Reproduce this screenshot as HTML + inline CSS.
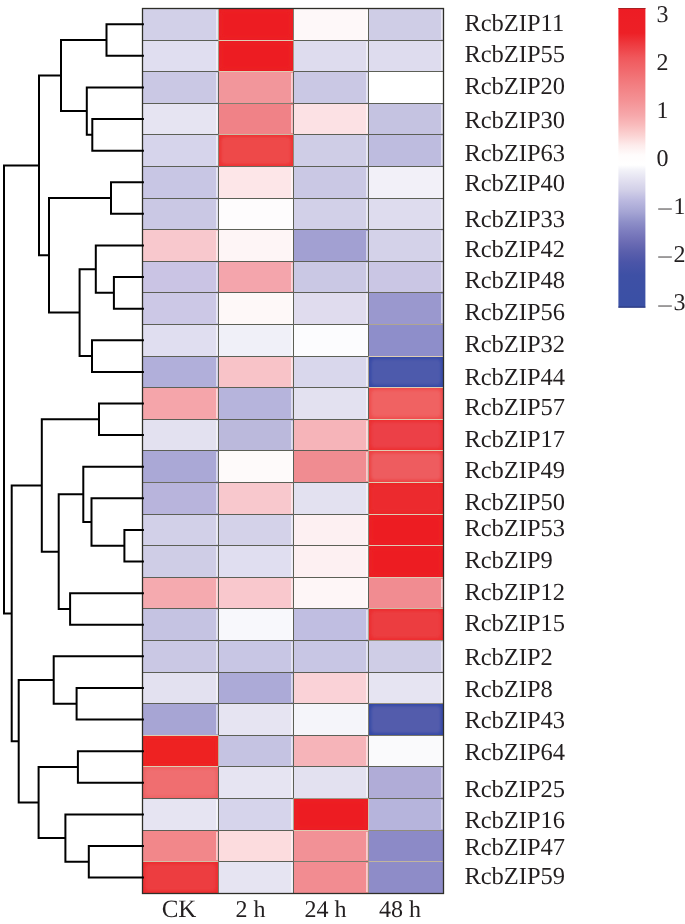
<!DOCTYPE html>
<html><head><meta charset="utf-8"><style>
html,body{margin:0;padding:0;background:#fff;}
body{width:685px;height:924px;overflow:hidden;}
svg{display:block;}
text{font-family:"Liberation Serif","Times New Roman",serif;font-size:24px;fill:#231f20;text-rendering:geometricPrecision;}
</style></head><body>
<svg width="685" height="924" viewBox="0 0 685 924">
<defs>
<filter id="bl" x="-10%" y="-20%" width="120%" height="140%"><feGaussianBlur stdDeviation="1.4"/></filter>
<linearGradient id="cb" x1="0" y1="0" x2="0" y2="1"><stop offset="0.0000" stop-color="rgb(237,28,36)"/><stop offset="0.0834" stop-color="rgb(237,32,38)"/><stop offset="0.1235" stop-color="rgb(238,60,65)"/><stop offset="0.1669" stop-color="rgb(240,88,92)"/><stop offset="0.2537" stop-color="rgb(242,125,128)"/><stop offset="0.3071" stop-color="rgb(244,145,148)"/><stop offset="0.3571" stop-color="rgb(246,167,170)"/><stop offset="0.3905" stop-color="rgb(249,187,188)"/><stop offset="0.4239" stop-color="rgb(251,210,210)"/><stop offset="0.4573" stop-color="rgb(253,235,235)"/><stop offset="0.4907" stop-color="rgb(255,252,252)"/><stop offset="0.5240" stop-color="rgb(255,255,255)"/><stop offset="0.5407" stop-color="rgb(242,242,248)"/><stop offset="0.5741" stop-color="rgb(226,224,240)"/><stop offset="0.6075" stop-color="rgb(210,208,232)"/><stop offset="0.6409" stop-color="rgb(188,186,224)"/><stop offset="0.6809" stop-color="rgb(165,165,212)"/><stop offset="0.7143" stop-color="rgb(142,143,200)"/><stop offset="0.7477" stop-color="rgb(124,124,190)"/><stop offset="0.7810" stop-color="rgb(108,108,180)"/><stop offset="0.8144" stop-color="rgb(90,95,172)"/><stop offset="0.8478" stop-color="rgb(75,85,168)"/><stop offset="0.8912" stop-color="rgb(62,80,165)"/><stop offset="1.0000" stop-color="rgb(58,80,165)"/></linearGradient>
</defs>
<g><rect x="142.50" y="8.50" width="76.00" height="32.00" fill="rgb(210,208,232)"/><rect x="216.00" y="10.00" width="1.8" height="29.00" fill="#fff" opacity="0.55"/><rect x="218.50" y="8.50" width="75.00" height="32.00" fill="rgb(236,32,35)"/><rect x="221.10" y="10.90" width="69.80" height="27.20" rx="4" fill="rgb(237,28,36)" filter="url(#bl)"/><rect x="293.50" y="8.50" width="75.00" height="32.00" fill="rgb(254,248,249)"/><rect x="366.00" y="10.00" width="1.8" height="29.00" fill="#fff" opacity="0.55"/><rect x="368.50" y="8.50" width="75.00" height="32.00" fill="rgb(207,205,230)"/><rect x="441.00" y="10.00" width="1.8" height="29.00" fill="#fff" opacity="0.55"/><rect x="142.50" y="40.50" width="76.00" height="31.00" fill="rgb(224,222,240)"/><rect x="216.00" y="42.00" width="1.8" height="28.00" fill="#fff" opacity="0.55"/><rect x="218.50" y="40.50" width="75.00" height="31.00" fill="rgb(236,32,35)"/><rect x="221.10" y="42.90" width="69.80" height="26.20" rx="4" fill="rgb(237,30,36)" filter="url(#bl)"/><rect x="293.50" y="40.50" width="75.00" height="31.00" fill="rgb(222,220,238)"/><rect x="366.00" y="42.00" width="1.8" height="28.00" fill="#fff" opacity="0.55"/><rect x="368.50" y="40.50" width="75.00" height="31.00" fill="rgb(222,220,238)"/><rect x="441.00" y="42.00" width="1.8" height="28.00" fill="#fff" opacity="0.55"/><rect x="142.50" y="71.50" width="76.00" height="32.00" fill="rgb(202,200,228)"/><rect x="216.00" y="73.00" width="1.8" height="29.00" fill="#fff" opacity="0.55"/><rect x="218.50" y="71.50" width="75.00" height="32.00" fill="rgb(242,150,155)"/><rect x="291.00" y="73.00" width="1.8" height="29.00" fill="#fff" opacity="0.55"/><rect x="293.50" y="71.50" width="75.00" height="32.00" fill="rgb(202,200,228)"/><rect x="366.00" y="73.00" width="1.8" height="29.00" fill="#fff" opacity="0.55"/><rect x="368.50" y="71.50" width="75.00" height="32.00" fill="rgb(255,255,255)"/><rect x="441.00" y="73.00" width="1.8" height="29.00" fill="#fff" opacity="0.55"/><rect x="142.50" y="103.50" width="76.00" height="31.00" fill="rgb(230,228,242)"/><rect x="216.00" y="105.00" width="1.8" height="28.00" fill="#fff" opacity="0.55"/><rect x="218.50" y="103.50" width="75.00" height="31.00" fill="rgb(240,130,135)"/><rect x="291.00" y="105.00" width="1.8" height="28.00" fill="#fff" opacity="0.55"/><rect x="293.50" y="103.50" width="75.00" height="31.00" fill="rgb(252,225,228)"/><rect x="366.00" y="105.00" width="1.8" height="28.00" fill="#fff" opacity="0.55"/><rect x="368.50" y="103.50" width="75.00" height="31.00" fill="rgb(197,195,225)"/><rect x="441.00" y="105.00" width="1.8" height="28.00" fill="#fff" opacity="0.55"/><rect x="142.50" y="134.50" width="76.00" height="32.00" fill="rgb(214,212,235)"/><rect x="216.00" y="136.00" width="1.8" height="29.00" fill="#fff" opacity="0.55"/><rect x="218.50" y="134.50" width="75.00" height="32.00" fill="rgb(237,49,50)"/><rect x="221.10" y="136.90" width="69.80" height="27.20" rx="4" fill="rgb(238,72,74)" filter="url(#bl)"/><rect x="293.50" y="134.50" width="75.00" height="32.00" fill="rgb(207,205,230)"/><rect x="366.00" y="136.00" width="1.8" height="29.00" fill="#fff" opacity="0.55"/><rect x="368.50" y="134.50" width="75.00" height="32.00" fill="rgb(190,188,223)"/><rect x="441.00" y="136.00" width="1.8" height="29.00" fill="#fff" opacity="0.55"/><rect x="142.50" y="166.50" width="76.00" height="32.00" fill="rgb(200,198,228)"/><rect x="216.00" y="168.00" width="1.8" height="29.00" fill="#fff" opacity="0.55"/><rect x="218.50" y="166.50" width="75.00" height="32.00" fill="rgb(253,230,232)"/><rect x="291.00" y="168.00" width="1.8" height="29.00" fill="#fff" opacity="0.55"/><rect x="293.50" y="166.50" width="75.00" height="32.00" fill="rgb(202,200,228)"/><rect x="366.00" y="168.00" width="1.8" height="29.00" fill="#fff" opacity="0.55"/><rect x="368.50" y="166.50" width="75.00" height="32.00" fill="rgb(242,240,248)"/><rect x="441.00" y="168.00" width="1.8" height="29.00" fill="#fff" opacity="0.55"/><rect x="142.50" y="198.50" width="76.00" height="31.00" fill="rgb(202,200,228)"/><rect x="216.00" y="200.00" width="1.8" height="28.00" fill="#fff" opacity="0.55"/><rect x="218.50" y="198.50" width="75.00" height="31.00" fill="rgb(254,252,253)"/><rect x="291.00" y="200.00" width="1.8" height="28.00" fill="#fff" opacity="0.55"/><rect x="293.50" y="198.50" width="75.00" height="31.00" fill="rgb(210,208,232)"/><rect x="366.00" y="200.00" width="1.8" height="28.00" fill="#fff" opacity="0.55"/><rect x="368.50" y="198.50" width="75.00" height="31.00" fill="rgb(222,220,238)"/><rect x="441.00" y="200.00" width="1.8" height="28.00" fill="#fff" opacity="0.55"/><rect x="142.50" y="229.50" width="76.00" height="32.00" fill="rgb(248,200,205)"/><rect x="216.00" y="231.00" width="1.8" height="29.00" fill="#fff" opacity="0.55"/><rect x="218.50" y="229.50" width="75.00" height="32.00" fill="rgb(254,245,246)"/><rect x="291.00" y="231.00" width="1.8" height="29.00" fill="#fff" opacity="0.55"/><rect x="293.50" y="229.50" width="75.00" height="32.00" fill="rgb(162,160,210)"/><rect x="366.00" y="231.00" width="1.8" height="29.00" fill="#fff" opacity="0.55"/><rect x="368.50" y="229.50" width="75.00" height="32.00" fill="rgb(212,210,233)"/><rect x="441.00" y="231.00" width="1.8" height="29.00" fill="#fff" opacity="0.55"/><rect x="142.50" y="261.50" width="76.00" height="31.00" fill="rgb(202,196,228)"/><rect x="216.00" y="263.00" width="1.8" height="28.00" fill="#fff" opacity="0.55"/><rect x="218.50" y="261.50" width="75.00" height="31.00" fill="rgb(244,165,172)"/><rect x="291.00" y="263.00" width="1.8" height="28.00" fill="#fff" opacity="0.55"/><rect x="293.50" y="261.50" width="75.00" height="31.00" fill="rgb(202,200,228)"/><rect x="366.00" y="263.00" width="1.8" height="28.00" fill="#fff" opacity="0.55"/><rect x="368.50" y="261.50" width="75.00" height="31.00" fill="rgb(202,198,228)"/><rect x="441.00" y="263.00" width="1.8" height="28.00" fill="#fff" opacity="0.55"/><rect x="142.50" y="292.50" width="76.00" height="32.00" fill="rgb(204,200,230)"/><rect x="216.00" y="294.00" width="1.8" height="29.00" fill="#fff" opacity="0.55"/><rect x="218.50" y="292.50" width="75.00" height="32.00" fill="rgb(254,248,248)"/><rect x="291.00" y="294.00" width="1.8" height="29.00" fill="#fff" opacity="0.55"/><rect x="293.50" y="292.50" width="75.00" height="32.00" fill="rgb(224,220,238)"/><rect x="366.00" y="294.00" width="1.8" height="29.00" fill="#fff" opacity="0.55"/><rect x="368.50" y="292.50" width="75.00" height="32.00" fill="rgb(154,152,206)"/><rect x="441.00" y="294.00" width="1.8" height="29.00" fill="#fff" opacity="0.55"/><rect x="142.50" y="324.50" width="76.00" height="32.00" fill="rgb(224,222,240)"/><rect x="216.00" y="326.00" width="1.8" height="29.00" fill="#fff" opacity="0.55"/><rect x="218.50" y="324.50" width="75.00" height="32.00" fill="rgb(240,240,248)"/><rect x="291.00" y="326.00" width="1.8" height="29.00" fill="#fff" opacity="0.55"/><rect x="293.50" y="324.50" width="75.00" height="32.00" fill="rgb(252,252,254)"/><rect x="366.00" y="326.00" width="1.8" height="29.00" fill="#fff" opacity="0.55"/><rect x="368.50" y="324.50" width="75.00" height="32.00" fill="rgb(142,142,202)"/><rect x="142.50" y="356.50" width="76.00" height="31.00" fill="rgb(177,175,218)"/><rect x="216.00" y="358.00" width="1.8" height="28.00" fill="#fff" opacity="0.55"/><rect x="218.50" y="356.50" width="75.00" height="31.00" fill="rgb(248,195,200)"/><rect x="291.00" y="358.00" width="1.8" height="28.00" fill="#fff" opacity="0.55"/><rect x="293.50" y="356.50" width="75.00" height="31.00" fill="rgb(217,215,236)"/><rect x="366.00" y="358.00" width="1.8" height="28.00" fill="#fff" opacity="0.55"/><rect x="368.50" y="356.50" width="75.00" height="31.00" fill="rgb(52,72,166)"/><rect x="371.10" y="358.90" width="69.80" height="26.20" rx="4" fill="rgb(77,90,172)" filter="url(#bl)"/><rect x="142.50" y="387.50" width="76.00" height="32.00" fill="rgb(245,165,170)"/><rect x="216.00" y="389.00" width="1.8" height="29.00" fill="#fff" opacity="0.55"/><rect x="218.50" y="387.50" width="75.00" height="32.00" fill="rgb(182,180,220)"/><rect x="291.00" y="389.00" width="1.8" height="29.00" fill="#fff" opacity="0.55"/><rect x="293.50" y="387.50" width="75.00" height="32.00" fill="rgb(227,225,240)"/><rect x="366.00" y="389.00" width="1.8" height="29.00" fill="#fff" opacity="0.55"/><rect x="368.50" y="387.50" width="75.00" height="32.00" fill="rgb(239,75,75)"/><rect x="371.10" y="389.90" width="69.80" height="27.20" rx="4" fill="rgb(240,98,98)" filter="url(#bl)"/><rect x="142.50" y="419.50" width="76.00" height="31.00" fill="rgb(227,225,240)"/><rect x="216.00" y="421.00" width="1.8" height="28.00" fill="#fff" opacity="0.55"/><rect x="218.50" y="419.50" width="75.00" height="31.00" fill="rgb(187,185,220)"/><rect x="291.00" y="421.00" width="1.8" height="28.00" fill="#fff" opacity="0.55"/><rect x="293.50" y="419.50" width="75.00" height="31.00" fill="rgb(246,180,185)"/><rect x="366.00" y="421.00" width="1.8" height="28.00" fill="#fff" opacity="0.55"/><rect x="368.50" y="419.50" width="75.00" height="31.00" fill="rgb(236,46,48)"/><rect x="371.10" y="421.90" width="69.80" height="26.20" rx="4" fill="rgb(236,65,70)" filter="url(#bl)"/><rect x="142.50" y="450.50" width="76.00" height="32.00" fill="rgb(170,168,214)"/><rect x="216.00" y="452.00" width="1.8" height="29.00" fill="#fff" opacity="0.55"/><rect x="218.50" y="450.50" width="75.00" height="32.00" fill="rgb(254,250,250)"/><rect x="291.00" y="452.00" width="1.8" height="29.00" fill="#fff" opacity="0.55"/><rect x="293.50" y="450.50" width="75.00" height="32.00" fill="rgb(240,140,145)"/><rect x="366.00" y="452.00" width="1.8" height="29.00" fill="#fff" opacity="0.55"/><rect x="368.50" y="450.50" width="75.00" height="32.00" fill="rgb(237,65,66)"/><rect x="371.10" y="452.90" width="69.80" height="27.20" rx="4" fill="rgb(238,92,95)" filter="url(#bl)"/><rect x="142.50" y="482.50" width="76.00" height="32.00" fill="rgb(184,180,220)"/><rect x="216.00" y="484.00" width="1.8" height="29.00" fill="#fff" opacity="0.55"/><rect x="218.50" y="482.50" width="75.00" height="32.00" fill="rgb(248,200,205)"/><rect x="291.00" y="484.00" width="1.8" height="29.00" fill="#fff" opacity="0.55"/><rect x="293.50" y="482.50" width="75.00" height="32.00" fill="rgb(227,225,240)"/><rect x="366.00" y="484.00" width="1.8" height="29.00" fill="#fff" opacity="0.55"/><rect x="368.50" y="482.50" width="75.00" height="32.00" fill="rgb(236,38,39)"/><rect x="371.10" y="484.90" width="69.80" height="27.20" rx="4" fill="rgb(236,44,47)" filter="url(#bl)"/><rect x="142.50" y="514.50" width="76.00" height="31.00" fill="rgb(210,208,232)"/><rect x="216.00" y="516.00" width="1.8" height="28.00" fill="#fff" opacity="0.55"/><rect x="218.50" y="514.50" width="75.00" height="31.00" fill="rgb(212,210,233)"/><rect x="291.00" y="516.00" width="1.8" height="28.00" fill="#fff" opacity="0.55"/><rect x="293.50" y="514.50" width="75.00" height="31.00" fill="rgb(253,240,242)"/><rect x="366.00" y="516.00" width="1.8" height="28.00" fill="#fff" opacity="0.55"/><rect x="368.50" y="514.50" width="75.00" height="31.00" fill="rgb(236,32,35)"/><rect x="371.10" y="516.90" width="69.80" height="26.20" rx="4" fill="rgb(237,30,36)" filter="url(#bl)"/><rect x="142.50" y="545.50" width="76.00" height="32.00" fill="rgb(207,205,230)"/><rect x="216.00" y="547.00" width="1.8" height="29.00" fill="#fff" opacity="0.55"/><rect x="218.50" y="545.50" width="75.00" height="32.00" fill="rgb(224,222,240)"/><rect x="291.00" y="547.00" width="1.8" height="29.00" fill="#fff" opacity="0.55"/><rect x="293.50" y="545.50" width="75.00" height="32.00" fill="rgb(253,240,242)"/><rect x="366.00" y="547.00" width="1.8" height="29.00" fill="#fff" opacity="0.55"/><rect x="368.50" y="545.50" width="75.00" height="32.00" fill="rgb(236,32,35)"/><rect x="371.10" y="547.90" width="69.80" height="27.20" rx="4" fill="rgb(237,28,36)" filter="url(#bl)"/><rect x="142.50" y="577.50" width="76.00" height="31.00" fill="rgb(245,170,175)"/><rect x="216.00" y="579.00" width="1.8" height="28.00" fill="#fff" opacity="0.55"/><rect x="218.50" y="577.50" width="75.00" height="31.00" fill="rgb(249,200,205)"/><rect x="291.00" y="579.00" width="1.8" height="28.00" fill="#fff" opacity="0.55"/><rect x="293.50" y="577.50" width="75.00" height="31.00" fill="rgb(254,246,247)"/><rect x="366.00" y="579.00" width="1.8" height="28.00" fill="#fff" opacity="0.55"/><rect x="368.50" y="577.50" width="75.00" height="31.00" fill="rgb(241,140,145)"/><rect x="441.00" y="579.00" width="1.8" height="28.00" fill="#fff" opacity="0.55"/><rect x="142.50" y="608.50" width="76.00" height="32.00" fill="rgb(197,195,226)"/><rect x="216.00" y="610.00" width="1.8" height="29.00" fill="#fff" opacity="0.55"/><rect x="218.50" y="608.50" width="75.00" height="32.00" fill="rgb(248,248,252)"/><rect x="291.00" y="610.00" width="1.8" height="29.00" fill="#fff" opacity="0.55"/><rect x="293.50" y="608.50" width="75.00" height="32.00" fill="rgb(192,190,225)"/><rect x="366.00" y="610.00" width="1.8" height="29.00" fill="#fff" opacity="0.55"/><rect x="368.50" y="608.50" width="75.00" height="32.00" fill="rgb(236,44,46)"/><rect x="371.10" y="610.90" width="69.80" height="27.20" rx="4" fill="rgb(236,60,65)" filter="url(#bl)"/><rect x="142.50" y="640.50" width="76.00" height="32.00" fill="rgb(202,200,228)"/><rect x="216.00" y="642.00" width="1.8" height="29.00" fill="#fff" opacity="0.55"/><rect x="218.50" y="640.50" width="75.00" height="32.00" fill="rgb(200,198,228)"/><rect x="291.00" y="642.00" width="1.8" height="29.00" fill="#fff" opacity="0.55"/><rect x="293.50" y="640.50" width="75.00" height="32.00" fill="rgb(200,198,228)"/><rect x="366.00" y="642.00" width="1.8" height="29.00" fill="#fff" opacity="0.55"/><rect x="368.50" y="640.50" width="75.00" height="32.00" fill="rgb(207,205,230)"/><rect x="441.00" y="642.00" width="1.8" height="29.00" fill="#fff" opacity="0.55"/><rect x="142.50" y="672.50" width="76.00" height="31.00" fill="rgb(227,225,240)"/><rect x="216.00" y="674.00" width="1.8" height="28.00" fill="#fff" opacity="0.55"/><rect x="218.50" y="672.50" width="75.00" height="31.00" fill="rgb(172,170,215)"/><rect x="291.00" y="674.00" width="1.8" height="28.00" fill="#fff" opacity="0.55"/><rect x="293.50" y="672.50" width="75.00" height="31.00" fill="rgb(250,210,215)"/><rect x="366.00" y="674.00" width="1.8" height="28.00" fill="#fff" opacity="0.55"/><rect x="368.50" y="672.50" width="75.00" height="31.00" fill="rgb(230,228,242)"/><rect x="441.00" y="674.00" width="1.8" height="28.00" fill="#fff" opacity="0.55"/><rect x="142.50" y="703.50" width="76.00" height="32.00" fill="rgb(167,165,212)"/><rect x="216.00" y="705.00" width="1.8" height="29.00" fill="#fff" opacity="0.55"/><rect x="218.50" y="703.50" width="75.00" height="32.00" fill="rgb(230,228,242)"/><rect x="291.00" y="705.00" width="1.8" height="29.00" fill="#fff" opacity="0.55"/><rect x="293.50" y="703.50" width="75.00" height="32.00" fill="rgb(245,245,250)"/><rect x="366.00" y="705.00" width="1.8" height="29.00" fill="#fff" opacity="0.55"/><rect x="368.50" y="703.50" width="75.00" height="32.00" fill="rgb(52,72,166)"/><rect x="371.10" y="705.90" width="69.80" height="27.20" rx="4" fill="rgb(82,92,172)" filter="url(#bl)"/><rect x="142.50" y="735.50" width="76.00" height="31.00" fill="rgb(237,35,34)"/><rect x="145.10" y="737.90" width="70.80" height="26.20" rx="4" fill="rgb(238,36,34)" filter="url(#bl)"/><rect x="218.50" y="735.50" width="75.00" height="31.00" fill="rgb(197,195,226)"/><rect x="291.00" y="737.00" width="1.8" height="28.00" fill="#fff" opacity="0.55"/><rect x="293.50" y="735.50" width="75.00" height="31.00" fill="rgb(246,180,185)"/><rect x="366.00" y="737.00" width="1.8" height="28.00" fill="#fff" opacity="0.55"/><rect x="368.50" y="735.50" width="75.00" height="31.00" fill="rgb(250,250,252)"/><rect x="441.00" y="737.00" width="1.8" height="28.00" fill="#fff" opacity="0.55"/><rect x="142.50" y="766.50" width="76.00" height="32.00" fill="rgb(239,98,100)"/><rect x="145.10" y="768.90" width="70.80" height="27.20" rx="4" fill="rgb(240,110,112)" filter="url(#bl)"/><rect x="218.50" y="766.50" width="75.00" height="32.00" fill="rgb(230,228,242)"/><rect x="291.00" y="768.00" width="1.8" height="29.00" fill="#fff" opacity="0.55"/><rect x="293.50" y="766.50" width="75.00" height="32.00" fill="rgb(227,225,240)"/><rect x="366.00" y="768.00" width="1.8" height="29.00" fill="#fff" opacity="0.55"/><rect x="368.50" y="766.50" width="75.00" height="32.00" fill="rgb(176,172,215)"/><rect x="441.00" y="768.00" width="1.8" height="29.00" fill="#fff" opacity="0.55"/><rect x="142.50" y="798.50" width="76.00" height="32.00" fill="rgb(230,228,242)"/><rect x="216.00" y="800.00" width="1.8" height="29.00" fill="#fff" opacity="0.55"/><rect x="218.50" y="798.50" width="75.00" height="32.00" fill="rgb(214,212,235)"/><rect x="291.00" y="800.00" width="1.8" height="29.00" fill="#fff" opacity="0.55"/><rect x="293.50" y="798.50" width="75.00" height="32.00" fill="rgb(236,32,35)"/><rect x="296.10" y="800.90" width="69.80" height="27.20" rx="4" fill="rgb(237,30,36)" filter="url(#bl)"/><rect x="368.50" y="798.50" width="75.00" height="32.00" fill="rgb(182,180,220)"/><rect x="441.00" y="800.00" width="1.8" height="29.00" fill="#fff" opacity="0.55"/><rect x="142.50" y="830.50" width="76.00" height="31.00" fill="rgb(242,135,138)"/><rect x="216.00" y="832.00" width="1.8" height="28.00" fill="#fff" opacity="0.55"/><rect x="218.50" y="830.50" width="75.00" height="31.00" fill="rgb(252,220,222)"/><rect x="291.00" y="832.00" width="1.8" height="28.00" fill="#fff" opacity="0.55"/><rect x="293.50" y="830.50" width="75.00" height="31.00" fill="rgb(242,145,150)"/><rect x="366.00" y="832.00" width="1.8" height="28.00" fill="#fff" opacity="0.55"/><rect x="368.50" y="830.50" width="75.00" height="31.00" fill="rgb(140,138,199)"/><rect x="142.50" y="861.50" width="76.00" height="32.00" fill="rgb(236,44,46)"/><rect x="145.10" y="863.90" width="70.80" height="27.20" rx="4" fill="rgb(237,60,65)" filter="url(#bl)"/><rect x="218.50" y="861.50" width="75.00" height="32.00" fill="rgb(230,228,242)"/><rect x="291.00" y="863.00" width="1.8" height="29.00" fill="#fff" opacity="0.55"/><rect x="293.50" y="861.50" width="75.00" height="32.00" fill="rgb(242,140,145)"/><rect x="366.00" y="863.00" width="1.8" height="29.00" fill="#fff" opacity="0.55"/><rect x="368.50" y="861.50" width="75.00" height="32.00" fill="rgb(142,140,200)"/></g>
<g stroke-width="1" fill="none"><path d="M142.50 40.50H218.50" stroke="rgb(92,95,86)"/><path d="M218.50 40.50H293.50" stroke="rgb(222,205,178)"/><path d="M293.50 40.50H368.50" stroke="rgb(92,95,86)"/><path d="M368.50 40.50H443.50" stroke="rgb(92,95,86)"/><path d="M142.50 71.50H218.50" stroke="rgb(92,95,86)"/><path d="M218.50 71.50H293.50" stroke="rgb(221,204,177)"/><path d="M293.50 71.50H368.50" stroke="rgb(92,95,86)"/><path d="M368.50 71.50H443.50" stroke="rgb(92,95,86)"/><path d="M142.50 103.50H218.50" stroke="rgb(92,95,86)"/><path d="M218.50 103.50H293.50" stroke="rgb(129,126,112)"/><path d="M293.50 103.50H368.50" stroke="rgb(92,95,86)"/><path d="M368.50 103.50H443.50" stroke="rgb(92,95,86)"/><path d="M142.50 134.50H218.50" stroke="rgb(92,95,86)"/><path d="M218.50 134.50H293.50" stroke="rgb(202,188,164)"/><path d="M293.50 134.50H368.50" stroke="rgb(92,95,86)"/><path d="M368.50 134.50H443.50" stroke="rgb(92,95,86)"/><path d="M142.50 166.50H218.50" stroke="rgb(92,95,86)"/><path d="M218.50 166.50H293.50" stroke="rgb(106,107,96)"/><path d="M293.50 166.50H368.50" stroke="rgb(92,95,86)"/><path d="M368.50 166.50H443.50" stroke="rgb(92,95,86)"/><path d="M142.50 198.50H218.50" stroke="rgb(92,95,86)"/><path d="M218.50 198.50H293.50" stroke="rgb(92,95,86)"/><path d="M293.50 198.50H368.50" stroke="rgb(92,95,86)"/><path d="M368.50 198.50H443.50" stroke="rgb(92,95,86)"/><path d="M142.50 229.50H218.50" stroke="rgb(92,95,86)"/><path d="M218.50 229.50H293.50" stroke="rgb(92,95,86)"/><path d="M293.50 229.50H368.50" stroke="rgb(92,95,86)"/><path d="M368.50 229.50H443.50" stroke="rgb(92,95,86)"/><path d="M142.50 261.50H218.50" stroke="rgb(92,95,86)"/><path d="M218.50 261.50H293.50" stroke="rgb(92,95,86)"/><path d="M293.50 261.50H368.50" stroke="rgb(93,96,87)"/><path d="M368.50 261.50H443.50" stroke="rgb(92,95,86)"/><path d="M142.50 292.50H218.50" stroke="rgb(92,95,86)"/><path d="M218.50 292.50H293.50" stroke="rgb(92,95,86)"/><path d="M293.50 292.50H368.50" stroke="rgb(92,95,86)"/><path d="M368.50 292.50H443.50" stroke="rgb(105,106,95)"/><path d="M142.50 324.50H218.50" stroke="rgb(92,95,86)"/><path d="M218.50 324.50H293.50" stroke="rgb(92,95,86)"/><path d="M293.50 324.50H368.50" stroke="rgb(92,95,86)"/><path d="M368.50 324.50H443.50" stroke="rgb(175,165,145)"/><path d="M142.50 356.50H218.50" stroke="rgb(92,95,86)"/><path d="M218.50 356.50H293.50" stroke="rgb(92,95,86)"/><path d="M293.50 356.50H368.50" stroke="rgb(92,95,86)"/><path d="M368.50 356.50H443.50" stroke="rgb(222,205,178)"/><path d="M142.50 387.50H218.50" stroke="rgb(93,96,87)"/><path d="M218.50 387.50H293.50" stroke="rgb(92,95,86)"/><path d="M293.50 387.50H368.50" stroke="rgb(92,95,86)"/><path d="M368.50 387.50H443.50" stroke="rgb(222,205,178)"/><path d="M142.50 419.50H218.50" stroke="rgb(92,95,86)"/><path d="M218.50 419.50H293.50" stroke="rgb(92,95,86)"/><path d="M293.50 419.50H368.50" stroke="rgb(92,95,86)"/><path d="M368.50 419.50H443.50" stroke="rgb(222,205,178)"/><path d="M142.50 450.50H218.50" stroke="rgb(92,95,86)"/><path d="M218.50 450.50H293.50" stroke="rgb(92,95,86)"/><path d="M293.50 450.50H368.50" stroke="rgb(92,95,86)"/><path d="M368.50 450.50H443.50" stroke="rgb(222,205,178)"/><path d="M142.50 482.50H218.50" stroke="rgb(107,108,97)"/><path d="M218.50 482.50H293.50" stroke="rgb(92,95,86)"/><path d="M293.50 482.50H368.50" stroke="rgb(92,95,86)"/><path d="M368.50 482.50H443.50" stroke="rgb(222,205,178)"/><path d="M142.50 514.50H218.50" stroke="rgb(92,95,86)"/><path d="M218.50 514.50H293.50" stroke="rgb(92,95,86)"/><path d="M293.50 514.50H368.50" stroke="rgb(92,95,86)"/><path d="M368.50 514.50H443.50" stroke="rgb(222,205,178)"/><path d="M142.50 545.50H218.50" stroke="rgb(92,95,86)"/><path d="M218.50 545.50H293.50" stroke="rgb(92,95,86)"/><path d="M293.50 545.50H368.50" stroke="rgb(92,95,86)"/><path d="M368.50 545.50H443.50" stroke="rgb(222,205,178)"/><path d="M142.50 577.50H218.50" stroke="rgb(92,95,86)"/><path d="M218.50 577.50H293.50" stroke="rgb(92,95,86)"/><path d="M293.50 577.50H368.50" stroke="rgb(92,95,86)"/><path d="M368.50 577.50H443.50" stroke="rgb(222,205,178)"/><path d="M142.50 608.50H218.50" stroke="rgb(92,95,86)"/><path d="M218.50 608.50H293.50" stroke="rgb(92,95,86)"/><path d="M293.50 608.50H368.50" stroke="rgb(92,95,86)"/><path d="M368.50 608.50H443.50" stroke="rgb(204,190,165)"/><path d="M142.50 640.50H218.50" stroke="rgb(92,95,86)"/><path d="M218.50 640.50H293.50" stroke="rgb(92,95,86)"/><path d="M293.50 640.50H368.50" stroke="rgb(92,95,86)"/><path d="M368.50 640.50H443.50" stroke="rgb(156,149,131)"/><path d="M142.50 672.50H218.50" stroke="rgb(92,95,86)"/><path d="M218.50 672.50H293.50" stroke="rgb(92,95,86)"/><path d="M293.50 672.50H368.50" stroke="rgb(92,95,86)"/><path d="M368.50 672.50H443.50" stroke="rgb(92,95,86)"/><path d="M142.50 703.50H218.50" stroke="rgb(92,95,86)"/><path d="M218.50 703.50H293.50" stroke="rgb(92,95,86)"/><path d="M293.50 703.50H368.50" stroke="rgb(92,95,86)"/><path d="M368.50 703.50H443.50" stroke="rgb(148,142,125)"/><path d="M142.50 735.50H218.50" stroke="rgb(222,205,178)"/><path d="M218.50 735.50H293.50" stroke="rgb(92,95,86)"/><path d="M293.50 735.50H368.50" stroke="rgb(92,95,86)"/><path d="M368.50 735.50H443.50" stroke="rgb(121,119,106)"/><path d="M142.50 766.50H218.50" stroke="rgb(222,205,178)"/><path d="M218.50 766.50H293.50" stroke="rgb(92,95,86)"/><path d="M293.50 766.50H368.50" stroke="rgb(92,95,86)"/><path d="M368.50 766.50H443.50" stroke="rgb(92,95,86)"/><path d="M142.50 798.50H218.50" stroke="rgb(92,95,86)"/><path d="M218.50 798.50H293.50" stroke="rgb(92,95,86)"/><path d="M293.50 798.50H368.50" stroke="rgb(158,151,133)"/><path d="M368.50 798.50H443.50" stroke="rgb(102,104,93)"/><path d="M142.50 830.50H218.50" stroke="rgb(92,95,86)"/><path d="M218.50 830.50H293.50" stroke="rgb(92,95,86)"/><path d="M293.50 830.50H368.50" stroke="rgb(222,205,178)"/><path d="M368.50 830.50H443.50" stroke="rgb(145,140,123)"/><path d="M142.50 861.50H218.50" stroke="rgb(208,193,168)"/><path d="M218.50 861.50H293.50" stroke="rgb(92,95,86)"/><path d="M293.50 861.50H368.50" stroke="rgb(124,122,108)"/><path d="M368.50 861.50H443.50" stroke="rgb(194,181,158)"/><path d="M218.50 8.50V40.50" stroke="rgb(180,170,148)"/><path d="M218.50 40.50V71.50" stroke="rgb(161,154,135)"/><path d="M218.50 71.50V103.50" stroke="rgb(92,95,86)"/><path d="M218.50 103.50V134.50" stroke="rgb(92,95,86)"/><path d="M218.50 134.50V166.50" stroke="rgb(136,132,117)"/><path d="M218.50 166.50V198.50" stroke="rgb(92,95,86)"/><path d="M218.50 198.50V229.50" stroke="rgb(92,95,86)"/><path d="M218.50 229.50V261.50" stroke="rgb(92,95,86)"/><path d="M218.50 261.50V292.50" stroke="rgb(92,95,86)"/><path d="M218.50 292.50V324.50" stroke="rgb(92,95,86)"/><path d="M218.50 324.50V356.50" stroke="rgb(92,95,86)"/><path d="M218.50 356.50V387.50" stroke="rgb(92,95,86)"/><path d="M218.50 387.50V419.50" stroke="rgb(92,95,86)"/><path d="M218.50 419.50V450.50" stroke="rgb(92,95,86)"/><path d="M218.50 450.50V482.50" stroke="rgb(92,95,86)"/><path d="M218.50 482.50V514.50" stroke="rgb(92,95,86)"/><path d="M218.50 514.50V545.50" stroke="rgb(92,95,86)"/><path d="M218.50 545.50V577.50" stroke="rgb(92,95,86)"/><path d="M218.50 577.50V608.50" stroke="rgb(92,95,86)"/><path d="M218.50 608.50V640.50" stroke="rgb(92,95,86)"/><path d="M218.50 640.50V672.50" stroke="rgb(92,95,86)"/><path d="M218.50 672.50V703.50" stroke="rgb(92,95,86)"/><path d="M218.50 703.50V735.50" stroke="rgb(92,95,86)"/><path d="M218.50 735.50V766.50" stroke="rgb(190,178,155)"/><path d="M218.50 766.50V798.50" stroke="rgb(92,95,86)"/><path d="M218.50 798.50V830.50" stroke="rgb(92,95,86)"/><path d="M218.50 830.50V861.50" stroke="rgb(92,95,86)"/><path d="M218.50 861.50V893.50" stroke="rgb(127,125,111)"/><path d="M293.50 8.50V40.50" stroke="rgb(129,127,112)"/><path d="M293.50 40.50V71.50" stroke="rgb(164,156,137)"/><path d="M293.50 71.50V103.50" stroke="rgb(92,95,86)"/><path d="M293.50 103.50V134.50" stroke="rgb(92,95,86)"/><path d="M293.50 134.50V166.50" stroke="rgb(144,139,123)"/><path d="M293.50 166.50V198.50" stroke="rgb(92,95,86)"/><path d="M293.50 198.50V229.50" stroke="rgb(92,95,86)"/><path d="M293.50 229.50V261.50" stroke="rgb(92,95,86)"/><path d="M293.50 261.50V292.50" stroke="rgb(92,95,86)"/><path d="M293.50 292.50V324.50" stroke="rgb(92,95,86)"/><path d="M293.50 324.50V356.50" stroke="rgb(92,95,86)"/><path d="M293.50 356.50V387.50" stroke="rgb(92,95,86)"/><path d="M293.50 387.50V419.50" stroke="rgb(92,95,86)"/><path d="M293.50 419.50V450.50" stroke="rgb(92,95,86)"/><path d="M293.50 450.50V482.50" stroke="rgb(92,95,86)"/><path d="M293.50 482.50V514.50" stroke="rgb(92,95,86)"/><path d="M293.50 514.50V545.50" stroke="rgb(92,95,86)"/><path d="M293.50 545.50V577.50" stroke="rgb(92,95,86)"/><path d="M293.50 577.50V608.50" stroke="rgb(92,95,86)"/><path d="M293.50 608.50V640.50" stroke="rgb(92,95,86)"/><path d="M293.50 640.50V672.50" stroke="rgb(92,95,86)"/><path d="M293.50 672.50V703.50" stroke="rgb(92,95,86)"/><path d="M293.50 703.50V735.50" stroke="rgb(92,95,86)"/><path d="M293.50 735.50V766.50" stroke="rgb(92,95,86)"/><path d="M293.50 766.50V798.50" stroke="rgb(92,95,86)"/><path d="M293.50 798.50V830.50" stroke="rgb(174,164,144)"/><path d="M293.50 830.50V861.50" stroke="rgb(92,95,86)"/><path d="M293.50 861.50V893.50" stroke="rgb(92,95,86)"/><path d="M368.50 8.50V40.50" stroke="rgb(92,95,86)"/><path d="M368.50 40.50V71.50" stroke="rgb(92,95,86)"/><path d="M368.50 71.50V103.50" stroke="rgb(92,95,86)"/><path d="M368.50 103.50V134.50" stroke="rgb(92,95,86)"/><path d="M368.50 134.50V166.50" stroke="rgb(92,95,86)"/><path d="M368.50 166.50V198.50" stroke="rgb(92,95,86)"/><path d="M368.50 198.50V229.50" stroke="rgb(92,95,86)"/><path d="M368.50 229.50V261.50" stroke="rgb(92,95,86)"/><path d="M368.50 261.50V292.50" stroke="rgb(92,95,86)"/><path d="M368.50 292.50V324.50" stroke="rgb(92,95,86)"/><path d="M368.50 324.50V356.50" stroke="rgb(92,95,86)"/><path d="M368.50 356.50V387.50" stroke="rgb(167,159,139)"/><path d="M368.50 387.50V419.50" stroke="rgb(96,98,89)"/><path d="M368.50 419.50V450.50" stroke="rgb(161,153,135)"/><path d="M368.50 450.50V482.50" stroke="rgb(175,165,144)"/><path d="M368.50 482.50V514.50" stroke="rgb(146,141,124)"/><path d="M368.50 514.50V545.50" stroke="rgb(135,132,117)"/><path d="M368.50 545.50V577.50" stroke="rgb(137,133,118)"/><path d="M368.50 577.50V608.50" stroke="rgb(92,95,86)"/><path d="M368.50 608.50V640.50" stroke="rgb(174,164,144)"/><path d="M368.50 640.50V672.50" stroke="rgb(92,95,86)"/><path d="M368.50 672.50V703.50" stroke="rgb(92,95,86)"/><path d="M368.50 703.50V735.50" stroke="rgb(127,125,111)"/><path d="M368.50 735.50V766.50" stroke="rgb(92,95,86)"/><path d="M368.50 766.50V798.50" stroke="rgb(92,95,86)"/><path d="M368.50 798.50V830.50" stroke="rgb(213,197,171)"/><path d="M368.50 830.50V861.50" stroke="rgb(158,151,132)"/><path d="M368.50 861.50V893.50" stroke="rgb(160,152,134)"/></g>
<rect x="142.50" y="8.50" width="301.00" height="885.00" fill="none" stroke="#2e2e28" stroke-width="1.3"/>
<path d="M142.90 24.20H106.50V55.81H142.90M142.90 119.03H92.30V150.63H142.90M142.90 87.42H86.80V134.83H92.30M106.50 40.01H61.00V111.12H86.80M142.90 182.24H111.00V213.85H142.90M142.90 277.06H113.90V308.67H142.90M142.90 245.45H95.80V292.86H113.90M142.90 340.27H92.00V371.88H142.90M95.80 269.16H79.60V356.08H92.00M111.00 198.04H49.00V312.62H79.60M61.00 75.57H39.00V255.33H49.00M142.90 403.49H99.00V435.10H142.90M142.90 529.92H124.40V561.52H142.90M142.90 498.31H91.50V545.72H124.40M142.90 466.70H83.30V522.02H91.50M142.90 593.13H70.10V624.74H142.90M83.30 494.36H58.70V608.94H70.10M99.00 419.29H41.80V551.65H58.70M142.90 687.95H76.60V719.56H142.90M142.90 656.35H53.70V703.76H76.60M142.90 751.17H77.90V782.77H142.90M142.90 845.99H88.80V877.60H142.90M142.90 814.38H65.40V861.79H88.80M77.90 766.97H38.60V838.09H65.40M53.70 680.05H18.70V802.53H38.60M41.80 485.47H11.70V741.29H18.70M39.00 165.45H4.00V613.38H11.70" stroke="#000" stroke-width="2" fill="none" stroke-linecap="square"/>
<rect x="618.4" y="8" width="27" height="299.6" fill="url(#cb)"/>
<rect x="618.4" y="8" width="27" height="1" fill="rgb(168,32,34)"/>
<rect x="618.4" y="306.6" width="27" height="1" fill="rgb(38,50,118)"/>
<text x="464.4" y="30.9" style="font-size:24.5px">RcbZIP11</text><text x="464.4" y="62.1" style="font-size:24.5px">RcbZIP55</text><text x="464.4" y="93.8" style="font-size:24.5px">RcbZIP20</text><text x="464.4" y="127.9" style="font-size:24.5px">RcbZIP30</text><text x="464.4" y="161.3" style="font-size:24.5px">RcbZIP63</text><text x="464.4" y="190.6" style="font-size:24.5px">RcbZIP40</text><text x="464.4" y="227.3" style="font-size:24.5px">RcbZIP33</text><text x="464.4" y="256.9" style="font-size:24.5px">RcbZIP42</text><text x="464.4" y="288.3" style="font-size:24.5px">RcbZIP48</text><text x="464.4" y="319.7" style="font-size:24.5px">RcbZIP56</text><text x="464.4" y="351.9" style="font-size:24.5px">RcbZIP32</text><text x="464.4" y="385.3" style="font-size:24.5px">RcbZIP44</text><text x="464.4" y="414.7" style="font-size:24.5px">RcbZIP57</text><text x="464.4" y="446.9" style="font-size:24.5px">RcbZIP17</text><text x="464.4" y="478.3" style="font-size:24.5px">RcbZIP49</text><text x="464.4" y="509.7" style="font-size:24.5px">RcbZIP50</text><text x="464.4" y="535.9" style="font-size:24.5px">RcbZIP53</text><text x="464.4" y="567.9" style="font-size:24.5px">RcbZIP9</text><text x="464.4" y="599.5" style="font-size:24.5px">RcbZIP12</text><text x="464.4" y="631.2" style="font-size:24.5px">RcbZIP15</text><text x="464.4" y="664.9" style="font-size:24.5px">RcbZIP2</text><text x="464.4" y="697.1" style="font-size:24.5px">RcbZIP8</text><text x="464.4" y="728.3" style="font-size:24.5px">RcbZIP43</text><text x="464.4" y="760.0" style="font-size:24.5px">RcbZIP64</text><text x="464.4" y="797.1" style="font-size:24.5px">RcbZIP25</text><text x="464.4" y="828.3" style="font-size:24.5px">RcbZIP16</text><text x="464.4" y="854.8" style="font-size:24.5px">RcbZIP47</text><text x="464.4" y="884.4" style="font-size:24.5px">RcbZIP59</text><text x="161.7" y="916.8" style="font-size:25px">CK</text><text x="235.5" y="916.7">2 h</text><text x="304.5" y="916.7">24 h</text><text x="378.9" y="916.7">48 h</text><text x="656.6" y="21.7">3</text><text x="656.6" y="69.8">2</text><text x="656.6" y="117.9">1</text><text x="656.6" y="166.0">0</text><text transform="translate(656.7 214.5) scale(1.22 0.75)">−</text><text x="673.4" y="214.1">1</text><text transform="translate(656.7 262.5) scale(1.22 0.75)">−</text><text x="673.4" y="262.2">2</text><text transform="translate(656.7 311.5) scale(1.22 0.75)">−</text><text x="673.4" y="310.3">3</text>
</svg>
</body></html>
